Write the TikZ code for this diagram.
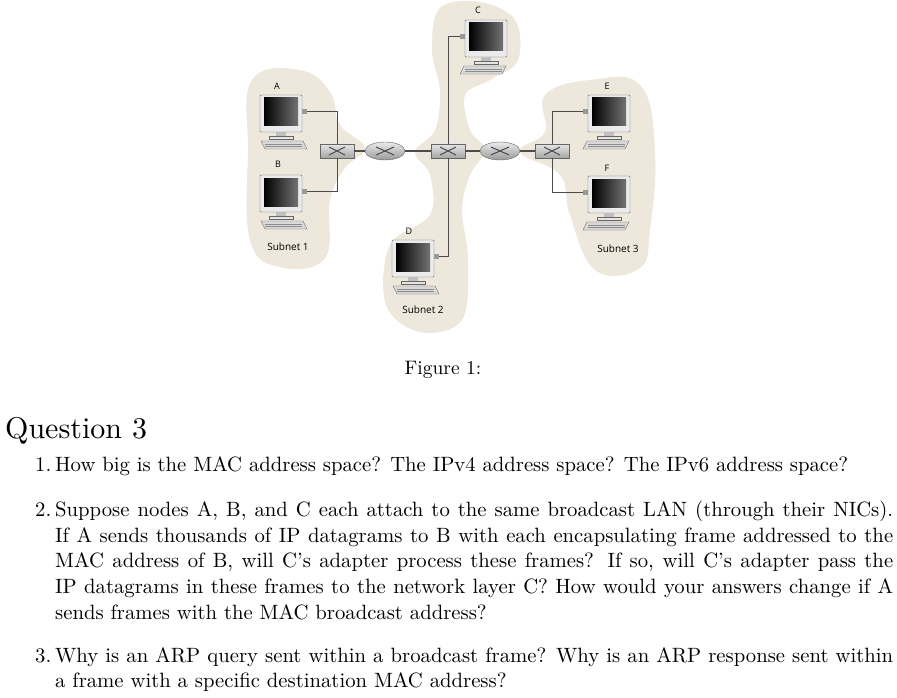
\documentclass[tikz,border=0pt]{standalone}
\usepackage{fontspec}
\setmainfont{lmroman10-regular}[Extension=.otf]
\newfontfamily\lab{Open Sans}
\definecolor{blobc}{RGB}{237,231,220}
\newcommand\itemnum[1]{\llap{\makebox[20pt][l]{#1}}}
\tikzset{
 blob/.style={fill=blobc, draw=none},
 wire/.style={draw=black!70, line width=1.2pt},
 pc/.pic={
   \fill[black!40] (21,14) rectangle (26,19);
   \draw[black!60,fill=black!8,rounded corners=1pt] (-21,0) rectangle (21,37);
   \shade[left color=black, right color=black!55] (-17,3) rectangle (17,31);
   \fill[black!25] (-5,37) rectangle (5,41);
   \draw[black!60,fill=black!10] (-12,41) rectangle (12,44);
   \draw[black!60,fill=black!15] (-20,46) -- (22,46) -- (26,54) -- (-16,54) -- cycle;
   \foreach \k in {49,51.5}{\draw[black!45,line width=0.7pt] (-16,\k) -- (21,\k);}
 },
 sw/.style={draw=black!60, top color=black!10, bottom color=black!35, minimum width=34pt, minimum height=14pt, inner sep=0pt, path picture={\draw[black!70,line width=1pt] ([xshift=-8pt,yshift=-4pt]path picture bounding box.center) -- ++(16pt,8pt) ([xshift=-8pt,yshift=4pt]path picture bounding box.center) -- ++(16pt,-8pt);}},
 rt/.style={ellipse, draw=black!60, top color=black!8, bottom color=black!40, minimum width=40pt, minimum height=18pt, inner sep=0pt, path picture={\draw[black!70,line width=1pt] ([xshift=-9pt,yshift=-4pt]path picture bounding box.center) -- ++(18pt,8pt) ([xshift=-9pt,yshift=4pt]path picture bounding box.center) -- ++(18pt,-8pt);}},
 lbl/.style={font=\lab\fontsize{9}{10}\selectfont},
 sub/.style={font=\lab\fontsize{10}{12}\selectfont},
 body/.style={font=\fontsize{20.7}{25.6}\selectfont, text width=838pt, align=justify, inner sep=0pt, anchor=north west},
}
\usetikzlibrary{shapes.geometric}
\begin{document}
\begin{tikzpicture}[x=1pt,y=-1pt]
\useasboundingbox (0,0) rectangle (897,698);
% blobs
\fill[blob] plot[smooth cycle, tension=0.7] coordinates {(252,80) (300,70) (330,92) (340,125) (365,148) (345,168) (330,200) (325,258) (280,267) (250,240) (248,150)};
\fill[blob] plot[smooth cycle, tension=0.6] coordinates {(440,8) (480,2) (515,20) (518,60) (490,80) (465,95) (470,130) (485,150) (470,175) (462,210) (468,260) (462,320) (420,332) (386,305) (390,245) (430,215) (430,175) (415,152) (435,130) (440,90) (432,50)};
\fill[blob] plot[smooth cycle, tension=0.7] coordinates {(545,95) (590,80) (640,85) (655,150) (650,230) (640,268) (595,270) (570,215) (560,175) (520,152) (545,132)};
% network devices
\node[sw] (s1) at (337,151) {};
\node[rt] (r1) at (385,151) {};
\node[sw] (s2) at (448,151) {};
\node[rt] (r2) at (500,151) {};
\node[sw] (s3) at (552,151) {};
\draw[wire] (s1) -- (r1) (r1) -- (s2) (s2) -- (r2) (r2) -- (s3);
% computers
\pic at (281,95) {pc}; \coordinate (pa) at (307,111.5);
\pic at (281,175) {pc}; \coordinate (pb) at (307,191.5);
\pic[xscale=-1] at (486,20) {pc}; \coordinate (pc) at (460,36.5);
\pic at (413,240) {pc}; \coordinate (pd) at (439,256.5);
\pic[xscale=-1] at (609,95) {pc}; \coordinate (pe) at (583,111.5);
\pic[xscale=-1] at (609,176) {pc}; \coordinate (pf) at (583,192.5);
\draw[wire,line width=1pt] (pa) -| (s1.north) (pb) -| (s1.south) (pc) -| (s2.north) (pd) -| (s2.south) (pe) -| (s3.north) (pf) -| (s3.south);
% labels
\node[lbl] (la) at (277,86) {A};
\node[lbl] (lb) at (278,164) {B};
\node[lbl] (lc) at (478,10) {C};
\node[lbl] (ld) at (409,231) {D};
\node[lbl] (le) at (607,86) {E};
\node[lbl] (lf) at (607,168) {F};
\node[sub] (n1) at (288,247) {Subnet 1};
\node[sub] (n2) at (423,310) {Subnet 2};
\node[sub] (n3) at (618,249) {Subnet 3};
% text
\node[font=\fontsize{19.5}{24}\selectfont] (fig) at (443,370) {Figure 1:};
\node[font=\fontsize{30}{34}\selectfont, anchor=west,inner sep=0pt] (q) at (5,431) {Question 3};
\node[body] (i1) at (55,456) {\itemnum{1.}How big is the MAC address space? The IPv4 address space? The IPv6 address space?};
\node[body] (i2) at (55,501) {\itemnum{2.}Suppose nodes A, B, and C each attach to the same broadcast LAN (through their NICs). If A sends thousands of IP datagrams to B with each encapsulating frame addressed to the MAC address of B, will C's adapter process these frames? If so, will C's adapter pass the IP datagrams in these frames to the network layer C? How would your answers change if A sends frames with the MAC broadcast address?};
\node[body] (i3) at (55,647) {\itemnum{3.}Why is an ARP query sent within a broadcast frame? Why is an ARP response sent within a frame with a specific destination MAC address?};
\end{tikzpicture}
\end{document}
